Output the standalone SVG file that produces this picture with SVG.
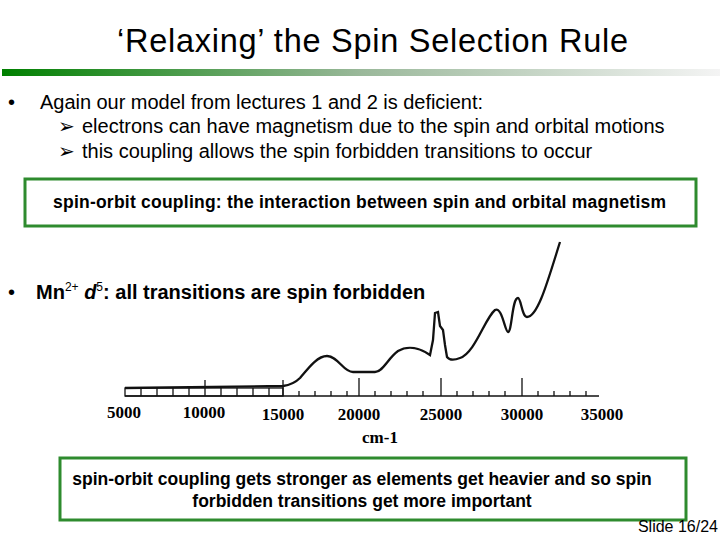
<svg xmlns="http://www.w3.org/2000/svg" width="720" height="540" viewBox="0 0 720 540">
<defs>
<linearGradient id="bar" x1="0" x2="1" y1="0" y2="0">
<stop offset="0" stop-color="#008000"/><stop offset="0.5" stop-color="#9ab89a"/><stop offset="1" stop-color="#f4f4f4"/>
</linearGradient>
<style>
.t{font-family:"Liberation Sans",Arial,sans-serif;fill:#000}
.ax{font-family:"Liberation Serif","Times New Roman",serif;font-weight:bold;font-size:17px;text-anchor:middle}
.box{fill:#fff;stroke:#2e8b2e;stroke-width:3}
.tk{stroke:#111;stroke-width:1.3}
.ar{font-family:"DejaVu Sans",sans-serif}
</style>
</defs>
<rect width="720" height="540" fill="#fff"/>
<text class="t" x="117" y="52" font-size="32.5" textLength="511">‘Relaxing’ the Spin Selection Rule</text>
<rect x="2" y="69" width="718" height="7" fill="url(#bar)"/>
<g id="bullets" class="t" font-size="20">
<text x="8" y="109">•</text>
<text x="40" y="109" textLength="443">Again our model from lectures 1 and 2 is deficient:</text>
<text x="58" y="133"><tspan class="ar" font-size="20">➢</tspan><tspan x="82">electrons can have magnetism due to the spin and orbital motions</tspan></text>
<text x="58" y="158"><tspan class="ar" font-size="20">➢</tspan><tspan x="82">this coupling allows the spin forbidden transitions to occur</tspan></text>
</g>
<g id="box1">
<rect class="box" x="25" y="179" width="671" height="47"/>
<text class="t" x="53" y="208" font-size="17.5" font-weight="bold" textLength="613">spin-orbit coupling: the interaction between spin and orbital magnetism</text>
</g>
<g id="chart">
<path d="M125,396H599" class="tk"/>
<rect x="125" y="388" width="158" height="8" fill="none" class="tk"/>
<path class="tk" d="M141,388v8M157,388v8M173,388v8M189,388v8M205,380v16M221,388v8M237,388v8M253,388v8M269,388v8M283,380v16M299,391v5M315,391v5M331,391v5M347,391v5M359,378v18M375,391v5M391,391v5M407,391v5M423,391v5M441,378v18M457,391v5M473,391v5M489,391v5M505,391v5M522,378v18M538,391v5M554,391v5M570,391v5M586,391v5"/>
<path d="M125,388L283,386C290,385 295,383 300,378C310,366 318,356 327,356C338,356 343,372 353,372L375,372C383,372 388,358 398,351C408,345 420,348 430,355L433,340L435,313L438,312L440,326L443,330L445,345L447,357C450,361 455,360 460,358C475,353 485,318 495,310C502,306 505,332 508,332C512,332 512,298 518,298C521,298 522,317 527,317C538,317 548,280 560,242" fill="none" stroke="#111" stroke-width="2.3"/>
<g class="ax"><text x="124" y="418">5000</text><text x="204" y="418">10000</text><text x="283" y="420">15000</text><text x="359" y="420">20000</text><text x="441" y="420">25000</text><text x="522" y="420">30000</text><text x="602" y="420">35000</text><text x="380" y="443">cm-1</text></g>
</g>
<g id="bullet2" class="t" font-size="20" font-weight="bold">
<text x="8" y="299" font-weight="normal">•</text>
<text x="36" y="299">Mn<tspan font-size="12" dy="-8" font-weight="normal">2+</tspan><tspan dy="8"> </tspan><tspan font-style="italic">d</tspan><tspan font-size="12" dy="-8" font-weight="normal">5</tspan><tspan dy="8">: all transitions are spin forbidden</tspan></text>
</g>
<g id="box2">
<rect class="box" x="60" y="458" width="626" height="62"/>
<text class="t" x="362" y="485" font-size="17.5" font-weight="bold" text-anchor="middle">spin-orbit coupling gets stronger as elements get heavier and so spin</text>
<text class="t" x="362" y="507" font-size="17.5" font-weight="bold" text-anchor="middle">forbidden transitions get more important</text>
</g>
<text class="t" x="718" y="532" font-size="16" text-anchor="end" fill="#333">Slide 16/24</text>
</svg>
